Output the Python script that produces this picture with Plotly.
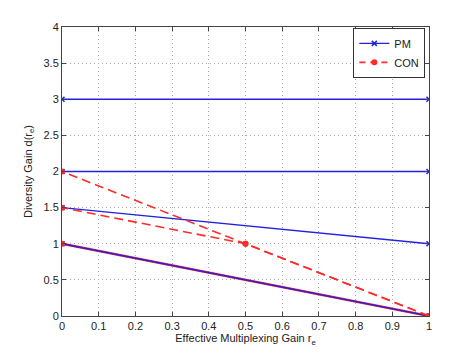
import plotly.graph_objects as go

# PM curves (blue solid, x markers)
pm_x = [[0, 1], [0, 1], [0, 1], [0, 1]]
pm_y = [[3, 3], [2, 2], [1.5, 1], [1, 0]]

# CON curves (red, dot markers), listed from r_e = 1 down to 0
con_x = [[1, 0.5, 0], [1, 0.5, 0], [1, 0]]
con_y = [[0, 1, 2], [0, 1, 1.5], [0, 1]]
con_dash = ["9px,5px", "9px,5px", "solid"]

x_ticks = [0, 0.1, 0.2, 0.3, 0.4, 0.5, 0.6, 0.7, 0.8, 0.9, 1]
x_tick_labels = ["0", "0.1", "0.2", "0.3", "0.4", "0.5", "0.6", "0.7", "0.8", "0.9", "1"]
y_ticks = [0, 0.5, 1, 1.5, 2, 2.5, 3, 3.5, 4]
y_tick_labels = ["0", "0.5", "1", "1.5", "2", "2.5", "3", "3.5", "4"]

FONT = "Liberation Sans, Arial, sans-serif"
RED = "#ff2a2a"
BLUE = "#2222dd"

fig = go.Figure()

# solid CON lines go underneath PM
for xs, ys, d in zip(con_x, con_y, con_dash):
    if d == "solid":
        fig.add_trace(go.Scatter(
            x=xs, y=ys, mode="lines", name="CON",
            line=dict(color=RED, width=2.4),
            showlegend=False,
        ))

for i, (xs, ys) in enumerate(zip(pm_x, pm_y)):
    fig.add_trace(go.Scatter(
        x=xs, y=ys, mode="lines+markers", name="PM",
        line=dict(color=BLUE, width=1.3),
        marker=dict(symbol="x-thin", size=5, color=BLUE,
                    line=dict(color=BLUE, width=1.5)),
        showlegend=(i == 0), legendrank=1,
    ))

for xs, ys, d in zip(con_x, con_y, con_dash):
    if d == "solid":
        fig.add_trace(go.Scatter(
            x=xs, y=ys, mode="markers", name="CON",
            marker=dict(symbol="circle", size=6, color=RED),
            showlegend=False,
        ))
    else:
        fig.add_trace(go.Scatter(
            x=xs, y=ys, mode="lines+markers", name="CON",
            line=dict(color=RED, width=1.6, dash=d),
            marker=dict(symbol="circle", size=6, color=RED),
            showlegend=False,
        ))

# legend entry for CON
fig.add_trace(go.Scatter(
    x=[None], y=[None], mode="lines+markers", name="CON",
    line=dict(color=RED, width=1.6, dash="6px,5px"),
    marker=dict(symbol="circle", size=6, color=RED),
    showlegend=True, legendrank=2,
))

axis_common = dict(
    showline=True, linecolor="#444444", linewidth=1, mirror="ticks",
    ticks="inside", ticklen=4, tickcolor="#444444",
    showgrid=True, gridcolor="#aaaaaa", griddash="1px,3px", gridwidth=1,
    zeroline=False,
    tickfont=dict(family=FONT, size=11, color="#222222"),
)

fig.update_xaxes(
    range=[0, 1], tickvals=x_ticks, ticktext=x_tick_labels,
    title=dict(text="Effective Multiplexing Gain r<sub>e</sub>",
               font=dict(family=FONT, size=11, color="#222222"),
               standoff=0),
    **axis_common,
)
fig.update_yaxes(
    range=[0, 4], tickvals=y_ticks, ticktext=y_tick_labels,
    title=dict(text="Diversity Gain d(r<sub>e</sub>)",
               font=dict(family=FONT, size=11, color="#222222"),
               standoff=8),
    **axis_common,
)

fig.update_layout(
    width=466, height=347,
    margin=dict(l=54, r=45, t=19, b=39),
    paper_bgcolor="white", plot_bgcolor="white",
    hovermode=False,
    legend=dict(
        x=0.99, y=0.997, xanchor="right", yanchor="top",
        bordercolor="#333333", borderwidth=1, bgcolor="white",
        font=dict(family=FONT, size=11, color="#222222"),
        tracegroupgap=0, itemwidth=30,
    ),
)

fig.write_html("out.html")
